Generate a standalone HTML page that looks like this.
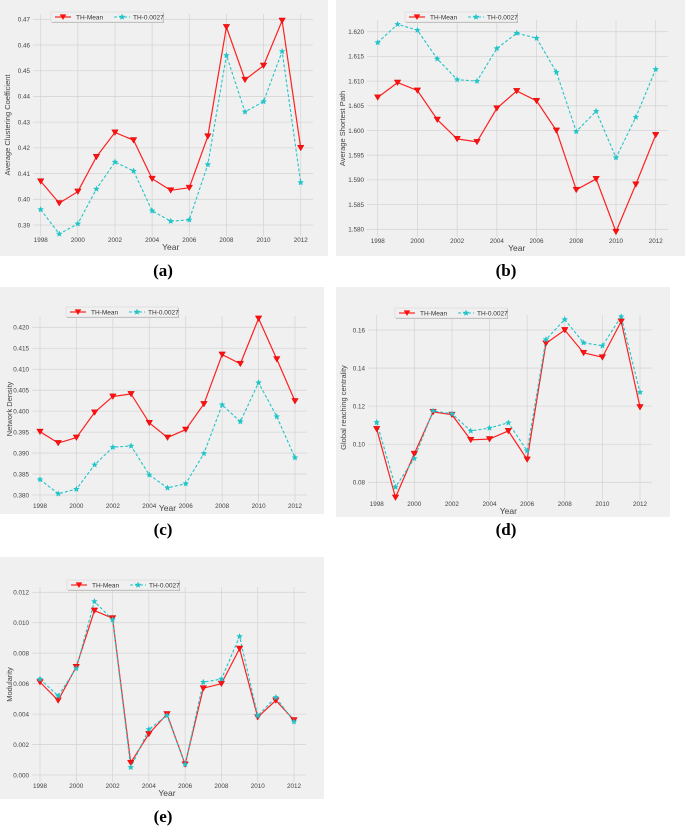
<!DOCTYPE html>
<html><head><meta charset="utf-8">
<style>
body{margin:0;background:#fff;width:685px;height:831px;overflow:hidden}
svg{display:block}
text{font-family:"Liberation Sans",sans-serif}
</style></head>
<body>
<svg id="root" width="685" height="831" viewBox="0 0 685 831" xmlns="http://www.w3.org/2000/svg"></svg>
<script>
const years=[1998,1999,2000,2001,2002,2003,2004,2005,2006,2007,2008,2009,2010,2011,2012];
const xTicks=[1998,2000,2002,2004,2006,2008,2010,2012];
// panel a
const aMean=[0.407,0.3985,0.403,0.4165,0.426,0.423,0.408,0.4035,0.4045,0.4245,0.467,0.4465,0.452,0.4695,0.420];
const aTh=[0.396,0.3865,0.3905,0.404,0.4145,0.411,0.3955,0.3915,0.392,0.4135,0.456,0.434,0.438,0.4575,0.4065];
const aTicks=[0.39,0.40,0.41,0.42,0.43,0.44,0.45,0.46,0.47];
// panel b
const bMean=[1.6067,1.6097,1.6081,1.6022,1.5983,1.5977,1.6045,1.6080,1.6060,1.6000,1.5880,1.5902,1.5795,1.5891,1.5991];
const bTh=[1.6178,1.6215,1.6203,1.6145,1.6103,1.6100,1.6166,1.6197,1.6187,1.6118,1.5998,1.6039,1.5945,1.6027,1.6124];
const bTicks=[1.580,1.585,1.590,1.595,1.600,1.605,1.610,1.615,1.620];
// panel c
const cMean=[0.3951,0.3924,0.3937,0.3997,0.4035,0.4041,0.3972,0.3937,0.3956,0.4017,0.4135,0.4113,0.4221,0.4124,0.4024];
const cTh=[0.3837,0.3803,0.3814,0.3872,0.3914,0.3917,0.3848,0.3817,0.3827,0.3899,0.4015,0.3975,0.4068,0.3987,0.3889];
const cTicks=[0.380,0.385,0.390,0.395,0.400,0.405,0.410,0.415,0.420];
// panel d
const dMean=[0.108,0.072,0.095,0.117,0.1155,0.1023,0.1027,0.107,0.092,0.153,0.160,0.148,0.1457,0.1645,0.1195];
const dTh=[0.1115,0.0775,0.0925,0.1175,0.116,0.107,0.1085,0.1113,0.0965,0.155,0.1655,0.1533,0.1517,0.167,0.1273];
const dTicks=[0.08,0.10,0.12,0.14,0.16];
// panel e
const eMean=[0.0061,0.0049,0.0071,0.0108,0.0103,0.0008,0.0027,0.0040,0.0007,0.0057,0.0060,0.0083,0.0038,0.0049,0.0036];
const eTh=[0.0063,0.0052,0.0070,0.0114,0.0102,0.0005,0.0030,0.0039,0.0007,0.0061,0.0063,0.0091,0.0039,0.0051,0.0035];
const eTicks=[0.000,0.002,0.004,0.006,0.008,0.010,0.012];

const NS="http://www.w3.org/2000/svg";
const root=document.getElementById('root');
function mk(tag,attrs,parent){const e=document.createElementNS(NS,tag);for(const k in attrs)e.setAttribute(k,attrs[k]);(parent||root).appendChild(e);return e;}

const panels=[
 {id:'a',bg:[0,0,328,256],x0:40.7,x1:300.7,v0:0.39,y0:225,v1:0.47,y1:19.3,mean:aMean,th:aTh,ticks:aTicks,dec:2,gx:[33,313],gy:[14,236],title:'Average Clustering Coefficient',leg:[51,12],lbl:'(a)',ly:276,yr:250,tx:4},
 {id:'b',bg:[336,0,349,256],x0:377.7,x1:655.7,v0:1.580,y0:229.3,v1:1.620,y1:31.7,mean:bMean,th:bTh,ticks:bTicks,dec:3,gx:[367,668],gy:[20,237],title:'Average Shortest Path',leg:[405,12],lbl:'(b)',ly:276,yr:251,tx:339},
 {id:'c',bg:[0,287,324,227],x0:40,x1:295,v0:0.380,y0:495,v1:0.420,y1:327.3,mean:cMean,th:cTh,ticks:cTicks,dec:3,gx:[32,307],gy:[316,502],title:'Network Density',leg:[66,307],lbl:'(c)',ly:535,yr:511,tx:6},
 {id:'d',bg:[336,287,334,230],x0:376.7,x1:640,v0:0.08,y0:482.3,v1:0.16,y1:330,mean:dMean,th:dTh,ticks:dTicks,dec:2,gx:[368,652],gy:[315,500],title:'Global reaching centrality',leg:[395,308],lbl:'(d)',ly:535,yr:514,tx:340},
 {id:'e',bg:[0,557,324,242],x0:40,x1:294,v0:0,y0:775,v1:0.012,y1:592.3,mean:eMean,th:eTh,ticks:eTicks,dec:3,gx:[32,306],gy:[587,782],title:'Modularity',leg:[67,580],lbl:'(e)',ly:822,yr:796,tx:6}
];

function starPts(cx,cy,r){let p=[];for(let i=0;i<10;i++){const rr=i%2?r*0.45:r;const a=-Math.PI/2+i*Math.PI/5;p.push((cx+rr*Math.cos(a)).toFixed(1)+','+(cy+rr*Math.sin(a)).toFixed(1));}return p.join(' ');}
function triPts(cx,cy,r){return `${cx-r},${cy-r*0.8} ${cx+r},${cy-r*0.8} ${cx},${cy+r*0.9}`;}

panels.forEach(P=>{
 const g=mk('g',{});
 
 
 const X=yr=>P.x0+(yr-1998)*(P.x1-P.x0)/14;
 const Y=v=>P.y0+(v-P.v0)*(P.y1-P.y0)/(P.v1-P.v0);
 const bg=mk('rect',{x:P.bg[0],y:P.bg[1],width:P.bg[2],height:P.bg[3],fill:'#f0f0f0'},g);
 
 
 P.ticks.forEach(t=>{
  const y=Y(t);
  const l=mk('line',{x1:P.gx[0],x2:P.gx[1],y1:y,y2:y,stroke:'#d6d6d6','stroke-width':0.8},g);
  
  
  const tx=mk('text',{x:P.gx[0]-3,y:y+2.3,'font-size':6.3,fill:'#444','text-anchor':'end'},g);
  tx.textContent=t.toFixed(P.dec);
  
  
 });
 xTicks.forEach(t=>{
  const x=X(t);
  const l=mk('line',{x1:x,x2:x,y1:P.gy[0],y2:P.gy[1],stroke:'#d6d6d6','stroke-width':0.8},g);
  
  
  const tx=mk('text',{x:x,y:P.gy[1]+6,'font-size':6.3,fill:'#444','text-anchor':'middle'},g);
  tx.textContent=t;
  
  
 });
 const xt=mk('text',{x:(P.x0+P.x1)/2,y:P.yr,'font-size':8.5,fill:'#444','text-anchor':'middle'},g);
 xt.textContent='Year';
 
 
 const yc=(P.gy[0]+P.gy[1])/2;
 const yt=mk('text',{x:P.tx+6,y:yc,'font-size':7.5,fill:'#444','text-anchor':'middle',transform:`rotate(-90 ${P.tx+6} ${yc})`},g);
 yt.textContent=P.title;
 
 
 // series
 const thPts=years.map((yr,i)=>X(yr)+','+Y(P.th[i])).join(' ');
 const mPts=years.map((yr,i)=>X(yr)+','+Y(P.mean[i])).join(' ');
 const lm=mk('polyline',{points:mPts,fill:'none',stroke:'#ff2020','stroke-width':1.2},g);
 
 
 const lt=mk('polyline',{points:thPts,fill:'none',stroke:'#22c4c8','stroke-width':1.1,'stroke-dasharray':'3,2'},g);
 
 
 years.forEach((yr,i)=>{
  const m=mk('polygon',{points:triPts(X(yr),Y(P.mean[i]),3.3),fill:'#ff1010',stroke:'#c00','stroke-width':0.4},g);
  
  
 });
 years.forEach((yr,i)=>{
  const m=mk('polygon',{points:starPts(X(yr),Y(P.th[i]),3.4),fill:'#22c4c8'},g);
  
  
 });
 // legend
 const lx=P.leg[0],ly=P.leg[1];
 const lg=mk('g',{},g);
 
 
 mk('rect',{x:lx+1,y:ly+1,width:112,height:10,fill:'#bdbdbd'},lg);
 mk('rect',{x:lx,y:ly,width:112,height:10,fill:'#f0f0f0',stroke:'#cfcfcf','stroke-width':0.5},lg);
 mk('line',{x1:lx+4,x2:lx+20,y1:ly+5,y2:ly+5,stroke:'#ff2020','stroke-width':1.2},lg);
 mk('polygon',{points:triPts(lx+12,ly+5,3.3),fill:'#ff1010'},lg);
 const t1=mk('text',{x:lx+25,y:ly+7.5,'font-size':6.5,fill:'#333'},lg);
 t1.textContent='TH-Mean';
 
 
 mk('line',{x1:lx+63,x2:lx+79,y1:ly+5,y2:ly+5,stroke:'#22c4c8','stroke-width':1.1,'stroke-dasharray':'3,2'},lg);
 mk('polygon',{points:starPts(lx+71,ly+5,3.4),fill:'#22c4c8'},lg);
 const t2=mk('text',{x:lx+82,y:ly+7.5,'font-size':6.5,fill:'#333'},lg);
 t2.textContent='TH-0.0027';
 
 
 const cap=mk('text',{x:P.bg[0]+(P.id==='b'||P.id==='d'?170:163),y:P.ly,'font-size':17,'font-weight':'bold','font-family':'Liberation Serif, serif',fill:'#000','text-anchor':'middle'},g);
 cap.setAttribute('style','font-family:"Liberation Serif",serif');
 cap.textContent=P.lbl;
 
 
});
</script>
</body></html>
